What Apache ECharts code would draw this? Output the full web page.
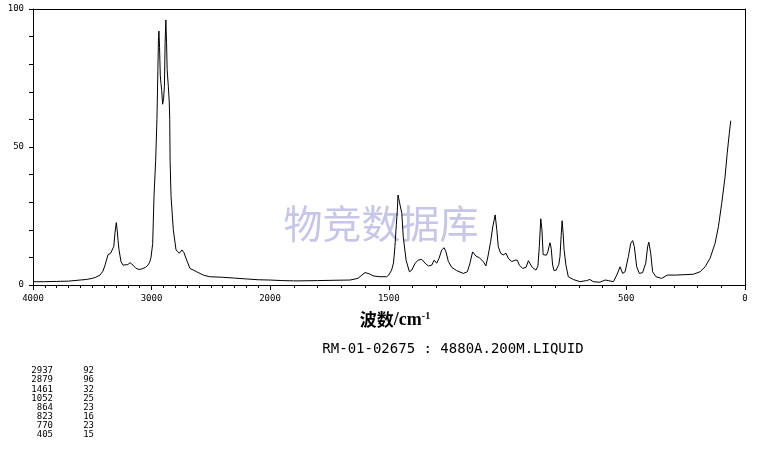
<!DOCTYPE html>
<html><head><meta charset="utf-8">
<script src="https://cdn.jsdelivr.net/npm/echarts@6/dist/echarts.min.js"></script>
<style>html,body{margin:0;padding:0;background:#fff}#c{width:762px;height:452px}</style>
</head><body><div id="c"></div>
<script>
// Raman spectrum (wavenumber cm-1, descending) and relative intensity
const wavenumbers = [
 4000,3900,3800,3700,3603,3550,3500,3470,3435,3410,3392,3367,3345,3333,3318,3308,3297,3290,3282,3274,
 3257,3240,3224,3200,3181,3170,3156,3135,3114,3090,3072,3050,3030,3015,3004,2990,2979,2965,2954,2946,
 2941,2937,2932,2926,2920,2914,2906,2898,2891,2885,2879,2873,2868,2858,2850,2846,2843,2835,2816,2793,
 2765,2743,2726,2703,2675,2619,2563,2512,2400,2300,2200,2100,2000,
 1950,1900,1874,1800,1735,1663,1630,1613,1600,1592,1580,1566,1537,1509,1500,1488,1480,1474,1468,1464,
 1461,1455,1445,1439,1427,1413,1403,1389,1376,1361,1347,1333,1319,1309,1298,1288,1277,1267,1259,1249,
 1235,1214,1186,1169,1158,1147,1141,1133,1119,1102,1091,1081,1071,1062,1057,1052,1045,1039,1029,1018,
 1006,997,982,968,959,950,936,922,912,905,896,880,872,866,860,855,850,843,836,830,
 825,821,816,810,804,795,784,779,774,770,766,762,754,744,723,695,667,660,653,639,
 611,589,576,554,540,526,515,505,491,481,473,466,456,445,431,418,410,405,397,389,
 375,351,327,288,218,189,168,147,126,112,98,84,75,66,60
];
const intensities = [
 1.2,1.2,1.3,1.4,1.8,2.0,2.4,2.8,3.6,5.0,7.2,11,11.5,11.5,14,19,22.6,20,16,12.7,
 8.4,7.2,6.9,7.4,8.1,7.8,7.2,6.2,5.7,5.7,6.0,6.4,7.2,8.3,10,15,32,45,60,78,
 90,92,86,76,73,70.5,65.5,67.5,72,88,96,88,78,72,66,60,45,32,20,12.7,
 11.5,12.7,11.7,9,6,4.8,3.6,3,2.8,2.5,2.2,1.9,1.8,
 1.6,1.5,1.5,1.6,1.7,1.8,2.4,3.6,4.5,4.8,4.0,3.3,3.0,3.0,3.6,5.4,8,13.9,22,27,
 32.6,30,26,17.5,9,4.8,5.4,7.9,9,9.3,7.9,6.9,7.2,9,7.9,9.7,12.7,13.5,12,8.5,
 6.4,5.2,4.2,4.8,7.9,12,12.3,10.5,9.9,8.5,6.9,10.9,15.7,21.1,21.7,25.4,20,13.9,11.5,10.9,
 11.5,9.7,8.5,9,9,7.2,6,6.4,8.8,8.5,6.4,5.4,6.9,13.9,24,20,11,10.3,10.8,12,
 14,15.3,13.3,7.2,5.2,5.4,7.5,10.3,18,23.3,19,13,7.2,3,2,1.2,1.6,1.8,2.0,1.2,
 1.0,1.8,1.6,1.2,3.6,6.6,4.2,4.8,10.3,15.1,16.1,13.9,6.6,4.2,4.5,7.9,13.9,15.5,11.5,4.8,
 3,2.4,3.6,3.6,3.9,4.8,6.6,9.7,15.1,21.1,29.6,39.2,47.7,55,59.5
];
const xLabelsHigh = [4000, 3000];
const xLabelsLow = [2000, 1500, 500, 0];
const yTickLabels = [0, 50, 100];
const peakWavenumbers = [2937, 2879, 1461, 1052, 864, 823, 770, 405];
const peakIntensities = [92, 96, 32, 25, 23, 16, 23, 15];
const axisTitleMain = '波数';
const axisTitleUnit = '/cm';
const axisTitleSup = '-1';
const sampleLabel = 'RM-01-02675 : 4880A.200M.LIQUID';
const watermarkText = '物竞数据库';

const high = [], low = [];
wavenumbers.forEach((w, i) => {
  if (w >= 2000) high.push([w, intensities[i]]);
  if (w <= 2000) low.push([w, intensities[i]]);
});

const blk = { color: '#000', width: 1 };
const plain = v => String(v);
const tickFont = { color: '#000', fontFamily: 'DejaVu Sans Mono', fontSize: 9, formatter: plain };

const graphics = [
  { type: 'text', z: 0, x: 381, y: 223, style: { text: watermarkText, fill: '#c6c6ea', font: '39px "Noto Sans CJK SC"', textAlign: 'center', textVerticalAlign: 'middle' } },
  { type: 'text', x: 395, y: 320, style: {
      text: '{a|' + axisTitleMain + '}{b|' + axisTitleUnit + '}{c|' + axisTitleSup + '}',
      textAlign: 'center', textVerticalAlign: 'middle',
      rich: {
        a: { fontFamily: 'Noto Sans CJK SC', fontWeight: 'bold', fontSize: 17, lineHeight: 18, fill: '#000' },
        b: { fontFamily: 'Liberation Serif', fontWeight: 'bold', fontSize: 18, lineHeight: 18, fill: '#000' },
        c: { fontFamily: 'Liberation Serif', fontWeight: 'bold', fontSize: 10, lineHeight: 18, verticalAlign: 'top', fill: '#000' }
      } } },
  { type: 'text', x: 453, y: 349, style: { text: sampleLabel, fill: '#000', font: '14px "DejaVu Sans Mono"', textAlign: 'center', textVerticalAlign: 'middle' } }
];
peakWavenumbers.forEach((w, i) => {
  graphics.push({ type: 'text', x: 53, y: 371 + i * 9.1, style: { text: String(w), fill: '#000', font: '9px "DejaVu Sans Mono"', textAlign: 'right', textVerticalAlign: 'middle' } });
  graphics.push({ type: 'text', x: 94, y: 371 + i * 9.1, style: { text: String(peakIntensities[i]), fill: '#000', font: '9px "DejaVu Sans Mono"', textAlign: 'right', textVerticalAlign: 'middle' } });
});

const chart = echarts.init(document.getElementById('c'), null, { renderer: 'canvas' });
chart.setOption({
  animation: false,
  backgroundColor: '#fff',
  grid: [
    { left: 33, top: 9, width: 237, height: 276 },
    { left: 270, top: 9, width: 475, height: 276 }
  ],
  xAxis: [
    { gridIndex: 0, type: 'value', min: 2000, max: 4000, inverse: true, position: 'bottom', interval: 1000,
      axisLine: { lineStyle: blk }, axisTick: { length: 5, lineStyle: blk },
      minorTick: { show: true, splitNumber: 10, length: 3, lineStyle: blk },
      axisLabel: { customValues: xLabelsHigh, margin: 9, ...tickFont },
      splitLine: { show: false }, minorSplitLine: { show: false } },
    { gridIndex: 1, type: 'value', min: 0, max: 2000, inverse: true, position: 'bottom', interval: 100,
      axisLine: { lineStyle: blk }, axisTick: { length: 3, lineStyle: blk },
      axisLabel: { show: false }, splitLine: { show: false } },
    { gridIndex: 1, type: 'value', min: 0, max: 2000, inverse: true, position: 'bottom',
      axisLine: { show: false }, axisTick: { customValues: xLabelsLow, length: 5, lineStyle: blk },
      axisLabel: { customValues: xLabelsLow, margin: 9, ...tickFont }, splitLine: { show: false } },
    { gridIndex: 0, type: 'value', min: 2000, max: 4000, inverse: true, position: 'top',
      axisLine: { lineStyle: blk }, axisTick: { show: false }, axisLabel: { show: false }, splitLine: { show: false } },
    { gridIndex: 1, type: 'value', min: 0, max: 2000, inverse: true, position: 'top',
      axisLine: { lineStyle: blk }, axisTick: { show: false }, axisLabel: { show: false }, splitLine: { show: false } }
  ],
  yAxis: [
    { gridIndex: 0, type: 'value', min: 0, max: 100, interval: 50, position: 'left',
      axisLine: { show: true, lineStyle: blk }, axisTick: { show: true, length: 4, lineStyle: blk },
      minorTick: { show: true, splitNumber: 5, length: 4, lineStyle: blk },
      axisLabel: { customValues: yTickLabels, margin: 9, ...tickFont },
      splitLine: { show: false }, minorSplitLine: { show: false } },
    { gridIndex: 1, type: 'value', min: 0, max: 100, position: 'right',
      axisLine: { show: true, lineStyle: blk }, axisTick: { show: false }, axisLabel: { show: false }, splitLine: { show: false } }
  ],
  series: [
    { type: 'line', xAxisIndex: 0, yAxisIndex: 0, data: high, showSymbol: false, symbol: 'none', z: 3,
      lineStyle: { color: '#000', width: 1 } },
    { type: 'line', xAxisIndex: 1, yAxisIndex: 1, data: low, showSymbol: false, symbol: 'none', z: 3,
      lineStyle: { color: '#000', width: 1 } }
  ],
  graphic: graphics
});
</script>
</body></html>
